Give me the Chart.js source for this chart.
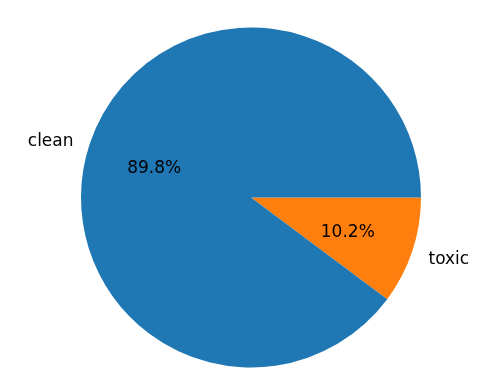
<!DOCTYPE html>
<html>
<head>
<meta charset="utf-8">
<script src="https://cdn.jsdelivr.net/npm/chart.js@4.4.0/dist/chart.umd.min.js"></script>
<style>
  html, body { margin: 0; padding: 0; background: #fff; }
  #pie { display: block; }
</style>
</head>
<body>
<canvas id="pie" width="489" height="391"></canvas>
<script>
// data
var categories = ["clean", "toxic"];
var shares = [89.8, 10.2];
var colors = ["#1f77b4", "#ff7f0e"];

// matplotlib draws counterclockwise from 3 o'clock, chart.js goes clockwise,
// so feed slices reversed and start at 3 o'clock
var labelsRev = categories.slice().reverse();
var valuesRev = shares.slice().reverse();
var colorsRev = colors.slice().reverse();

var fontSize = 17;

// labels outside (1.1 r) and percentages inside (0.6 r), like autopct
var pieLabels = {
    id: "pieLabels",
    afterDatasetsDraw: function (chart) {
        var ctx = chart.ctx;
        var meta = chart.getDatasetMeta(0);
        var shift = 0.45 * fontSize;
        ctx.save();
        ctx.font = fontSize + "px 'DejaVu Sans'";
        ctx.fillStyle = "#000";
        ctx.textBaseline = "alphabetic";
        meta.data.forEach(function (arc, i) {
            var p = arc.getProps(["x", "y", "startAngle", "endAngle", "outerRadius"], true);
            var a = (p.startAngle + p.endAngle) / 2;
            var cos = Math.cos(a), sin = Math.sin(a);
            // category label
            ctx.textAlign = cos < 0 ? "right" : "left";
            ctx.fillText(labelsRev[i], p.x + 1.1 * p.outerRadius * cos, p.y + 1.1 * p.outerRadius * sin + shift);
            // percent
            ctx.textAlign = "center";
            ctx.fillText(valuesRev[i].toFixed(1) + "%", p.x + 0.6 * p.outerRadius * cos, p.y + 0.6 * p.outerRadius * sin + shift);
        });
        ctx.restore();
    }
};

new Chart(document.getElementById("pie"), {
    type: "pie",
    data: {
        labels: labelsRev,
        datasets: [{
            data: valuesRev,
            backgroundColor: colorsRev,
            hoverBackgroundColor: colorsRev,
            borderWidth: 0
        }]
    },
    options: {
        responsive: false,
        animation: false,
        rotation: 90,
        layout: { padding: { left: 81, right: 68, top: 27, bottom: 23 } },
        plugins: {
            legend: { display: false },
            tooltip: { enabled: false }
        }
    },
    plugins: [pieLabels]
});
</script>
</body>
</html>
